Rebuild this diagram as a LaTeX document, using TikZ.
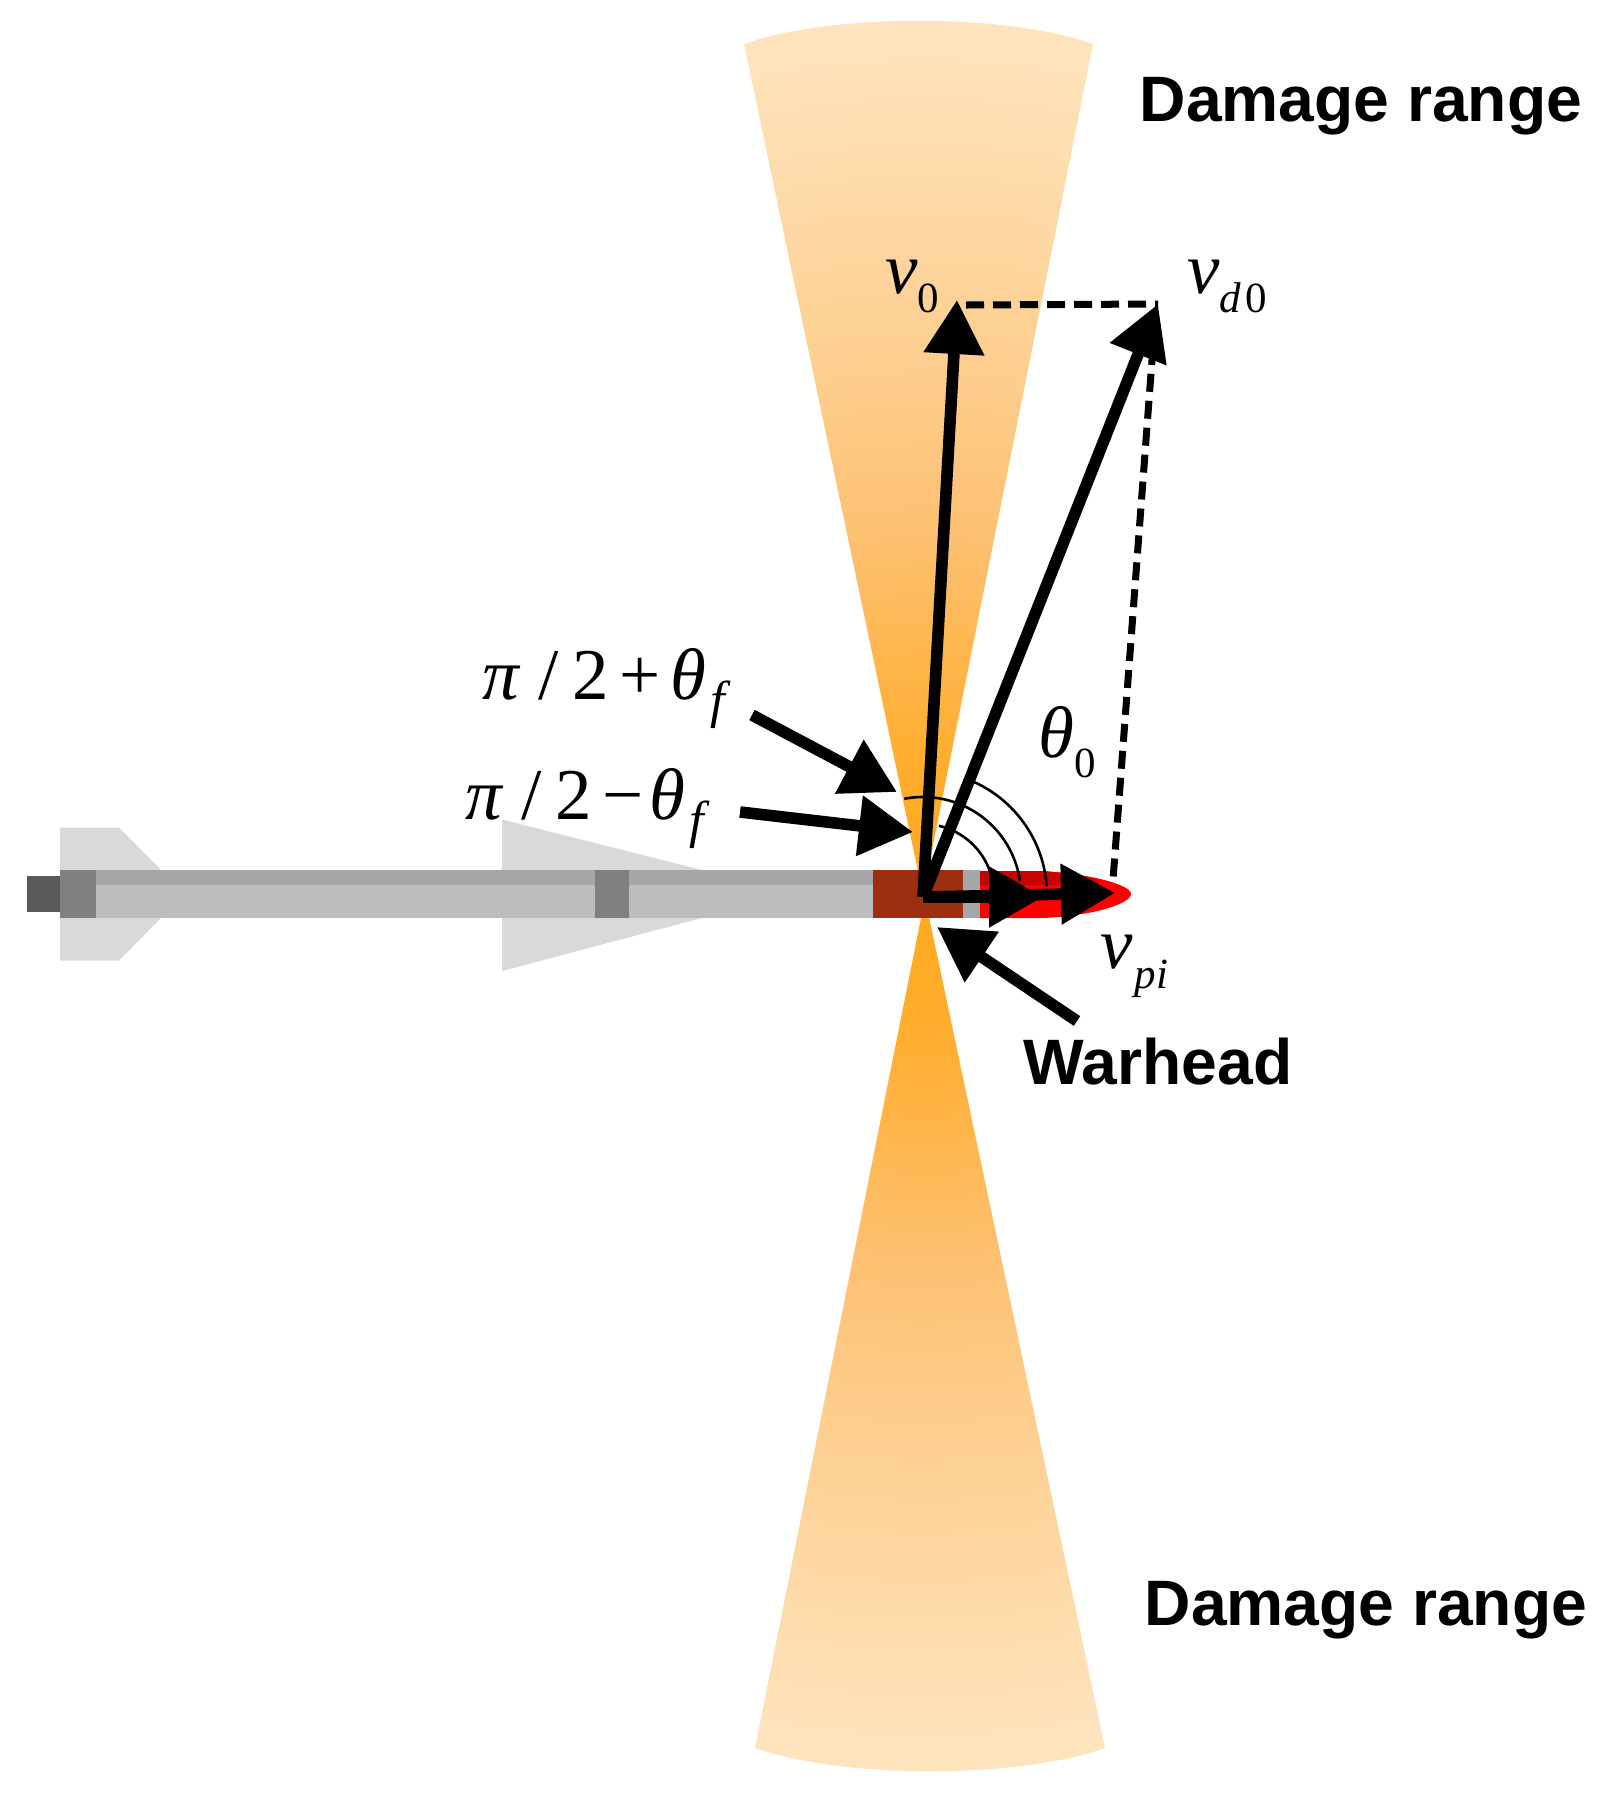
\documentclass[tikz,border=0pt]{standalone}
\usepackage{fontspec}
\setmainfont{Liberation Serif}
\newfontfamily\headfont{Liberation Sans}
\usetikzlibrary{arrows.meta,calc}
\definecolor{fadeA}{HTML}{FFA81E}
\definecolor{fadeB}{HTML}{FFAE30}
\definecolor{fadeC}{HTML}{FDC070}
\definecolor{fadeE}{HTML}{FDCC8A}
\definecolor{fadeD}{HTML}{FEE3BC}
\definecolor{finc}{HTML}{D9D9D9}
\definecolor{stripec}{HTML}{A6A6A6}
\definecolor{bodyc}{HTML}{BDBDBD}
\definecolor{bandc}{HTML}{7F7F7F}
\definecolor{nozc}{HTML}{595959}
\definecolor{warc}{HTML}{9C2F10}
\definecolor{darkred}{HTML}{C80000}
\pgfdeclareradialshading{wedgefade}{\pgfpoint{0bp}{0bp}}{color(0bp)=(fadeA); color(4bp)=(fadeB); color(10bp)=(fadeC); color(14bp)=(fadeE); color(23.5bp)=(fadeD); color(50bp)=(fadeD)}
\newcommand{\msub}[2]{\raisebox{#1}{\fontsize{21.5}{22}\selectfont #2}}
\newcommand{\fsub}{\raisebox{-9pt}{\fontsize{26}{26}\selectfont\textit{f}}}
\tikzset{
  x=0.5pt,y=-0.5pt,
  bigarrow/.style={line width=5.8pt,-{Triangle[length=27pt,width=29pt]},line cap=butt},
  dashline/.style={line width=3.5pt,dash pattern=on 9pt off 4.5pt},
  anglearc/.style={line width=1.3pt,black},
  headtext/.style={inner sep=0pt,font=\headfont\bfseries\fontsize{32.1}{33}\selectfont},
  mathtext/.style={inner sep=0pt,anchor=base west,font=\fontsize{36.5}{37}\selectfont},
}
\begin{document}
\begin{tikzpicture}
\useasboundingbox (0,0) rectangle (1608,1800);
% named points
\coordinate (o) at (923,895);
\coordinate (ob) at (925,898);
\coordinate (start) at (923,897);
\coordinate (v0tip) at (957,300);
\coordinate (vdtip) at (1158,304);
\coordinate (vp1) at (1043,897);
\coordinate (vp2) at (1115,893);
\coordinate (vpfoot) at (1113,880);
\coordinate (v0dash) at (966,305);
\coordinate (vddash) at (1155,320);
\coordinate (plusT) at (752,715);
\coordinate (plusH) at (897,792);
\coordinate (minusT) at (740,812);
\coordinate (minusH) at (913,832);
\coordinate (warT) at (1077,1021);
\coordinate (warH) at (937,927);
% damage range wedges
\begin{scope}
\clip (o) -- (744,44) .. controls (830,13) and (1007,13) .. (1093,44) -- cycle;
\shade[shading=wedgefade] (o) circle[radius=450pt];
\end{scope}
\begin{scope}
\clip (ob) -- (755,1748) .. controls (842,1779) and (1018,1779) .. (1105,1748) -- cycle;
\shade[shading=wedgefade] (ob) circle[radius=450pt];
\end{scope}
% missile
\fill[finc] (60,827.5) -- (119,827.5) -- (161,870) -- (161,918) -- (119,960.7) -- (60,960.7) -- cycle;
\fill[finc] (502,819.5) -- (702,870) -- (702,918) -- (502,971) -- cycle;
\fill[nozc] (27,876) rectangle (60,912);
\fill[bodyc] (60,870) rectangle (873,918);
\fill[stripec] (60,870) rectangle (873,885);
\fill[bandc] (60,870) rectangle (96,918);
\fill[bandc] (595,870) rectangle (629,918);
\fill[warc] (873,870) rectangle (963,918);
\fill[stripec] (963,870) rectangle (980,918);
\fill[red] (980,871) -- (1040,871) .. controls (1085,873) and (1131,884) .. (1131,894) .. controls (1131,905) and (1085,917) .. (1040,918) -- (980,918) -- cycle;
\fill[darkred] (980,871) -- (1040,871) .. controls (1060,872) and (1080,875) .. (1098,880) -- (1098,885) -- (980,885) -- cycle;
% angle arcs
\draw[anglearc] ($(o)+(77:35.5pt)$) arc[start angle=77,end angle=18,radius=35.5pt];
\draw[anglearc] ($(o)+(101:49pt)$) arc[start angle=101,end angle=8,radius=49pt];
\draw[anglearc] ($(o)+(66:62pt)$) arc[start angle=66,end angle=4,radius=62pt];
% dashed construction lines
\draw[dashline] (v0dash) -- (vdtip);
\draw[dashline] (vddash) -- (vpfoot);
% vectors
\draw[bigarrow] (start) -- (v0tip);
\draw[bigarrow] (start) -- (vdtip);
\draw[bigarrow] (start) -- (vp1);
\draw[bigarrow] (start) -- (vp2);
\draw[bigarrow] (plusT) -- (plusH);
\draw[bigarrow] (minusT) -- (minusH);
\draw[bigarrow] (warT) -- (warH);
% labels
\node[headtext] (dr1) at (1361,106) {Damage range};
\node[headtext] (dr2) at (1366,1610) {Damage range};
\node[headtext] (wh) at (1158,1062) {Warhead};
\node[mathtext] (lplus) at (482,699) {\textit{π}\hspace{9pt}/\hspace{7pt}2\hspace{5pt}+\hspace{5pt}\textit{θ}\hspace{2pt}\fsub};
\node[mathtext] (lminus) at (465,819) {\textit{π}\hspace{9pt}/\hspace{7pt}2\hspace{5pt}−\hspace{3pt}\textit{θ}\hspace{2pt}\fsub};
\node[mathtext] (lth) at (1038,757) {\textit{θ}\hspace{0pt}\msub{-10pt}{0}};
\node[mathtext] (lv0) at (885,293) {\textit{v}\hspace{0pt}\msub{-9.5pt}{0}};
\node[mathtext] (lvd) at (1187,293) {\textit{v}\hspace{0pt}\msub{-9.5pt}{\textit{d}\hspace{2pt}0}};
\node[mathtext] (lvp) at (1100,968) {\textit{v}\hspace{1pt}\msub{-10pt}{\textit{pi}}};
\end{tikzpicture}
\end{document}
